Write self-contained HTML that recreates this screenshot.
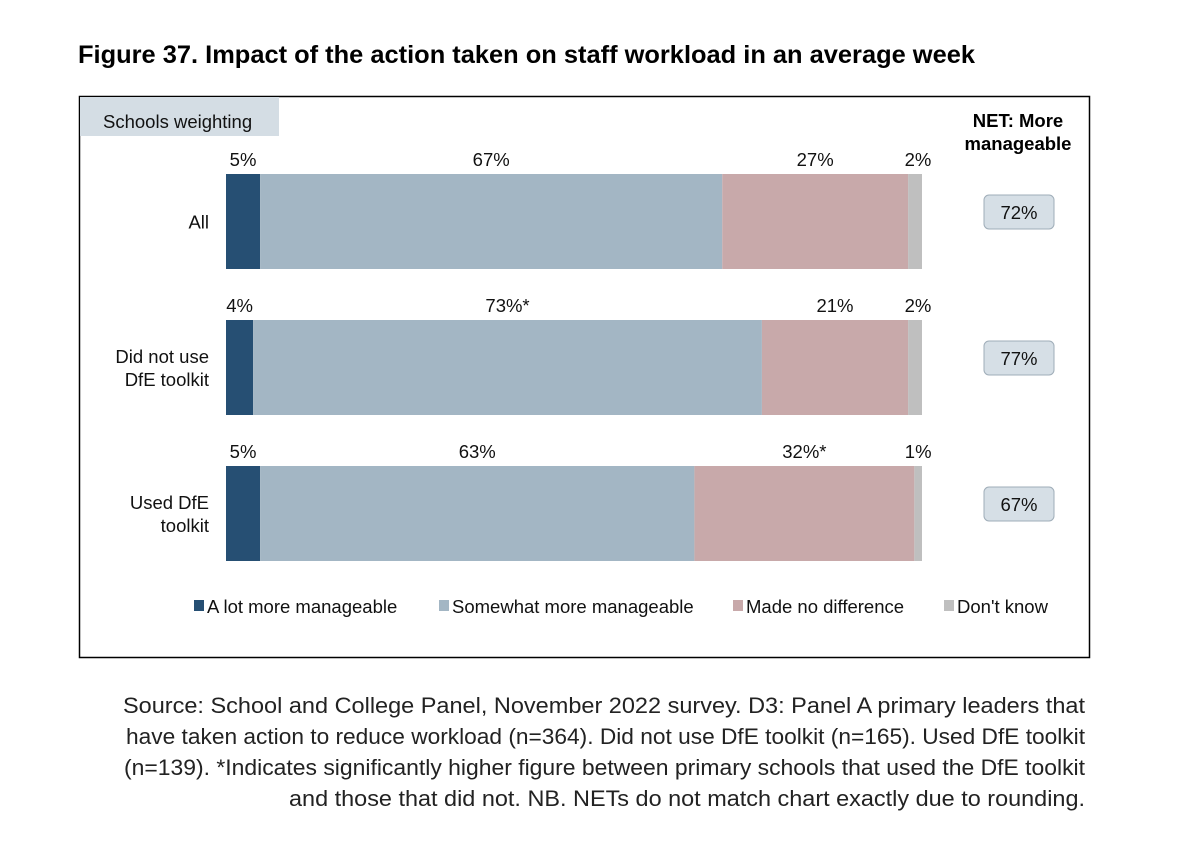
<!DOCTYPE html>
<html><head><meta charset="utf-8"><style>
body{margin:0;width:1200px;height:859px;background:#fff;font-family:"Liberation Sans",Arial,sans-serif;overflow:hidden}
</style></head><body>
<svg width="1200" height="859" xmlns="http://www.w3.org/2000/svg" font-family="Liberation Sans, Arial, sans-serif">
<text x="78" y="63" font-size="25" font-weight="bold" fill="#000" textLength="897" lengthAdjust="spacingAndGlyphs">Figure 37. Impact of the action taken on staff workload in an average week</text>
<rect x="79.5" y="96.5" width="1010" height="561" fill="none" stroke="#000" stroke-width="1.5"/>
<rect x="80" y="97" width="199" height="39" fill="#d4dde4"/>
<text x="103" y="128" font-size="18.5" fill="#111">Schools weighting</text>
<text x="1018" y="127" font-size="18.5" font-weight="bold" text-anchor="middle">NET: More</text>
<text x="1018" y="150" font-size="18.5" font-weight="bold" text-anchor="middle">manageable</text>
<g id="bars"></g>
<g id="legend"></g>
<g font-size="22.5" fill="#222" lengthAdjust="spacingAndGlyphs">
<text x="123" y="713" textLength="962" lengthAdjust="spacingAndGlyphs">Source: School and College Panel, November 2022 survey. D3: Panel A primary leaders that</text>
<text x="126" y="744" textLength="959" lengthAdjust="spacingAndGlyphs">have taken action to reduce workload (n=364). Did not use DfE toolkit (n=165). Used DfE toolkit</text>
<text x="124" y="775" textLength="961" lengthAdjust="spacingAndGlyphs">(n=139). *Indicates significantly higher figure between primary schools that used the DfE toolkit</text>
<text x="289" y="806" textLength="796" lengthAdjust="spacingAndGlyphs">and those that did not. NB. NETs do not match chart exactly due to rounding.</text>
</g>
</svg>
<script>
const categories = [["All"], ["Did not use","DfE toolkit"], ["Used DfE","toolkit"]];
const seriesNames = ["A lot more manageable","Somewhat more manageable","Made no difference","Don't know"];
const aLot = [4.9, 3.9, 4.9];
const somewhat = [66.4, 73.1, 62.4];
const noDiff = [26.7, 21.0, 31.6];
const dontKnow = [2.0, 2.0, 1.1];
const valueLabels = [["5%","67%","27%","2%"],["4%","73%*","21%","2%"],["5%","63%","32%*","1%"]];
const netValues = ["72%","77%","67%"];
const colors = ["#264f73","#a3b6c4","#c8a9aa","#bfbfbf"];
const NS="http://www.w3.org/2000/svg";
const x0=226, W=696, barTops=[174,320,466], barH=95;
function xs(v,sum){return v/sum*W;}
const g=document.getElementById('bars');
function mk(t,a){const e=document.createElementNS(NS,t);for(const k in a)e.setAttribute(k,a[k]);return e;}
const series=[aLot,somewhat,noDiff,dontKnow];
categories.forEach((cat,i)=>{
  const vals=series.map(s=>s[i]); const sum=vals.reduce((a,b)=>a+b,0);
  let cx=x0; const y=barTops[i];
  vals.forEach((v,j)=>{
    const w=xs(v,sum);
    const r=mk('rect',{x:cx,y:y,width:w,height:barH,fill:colors[j]});
    
    
    g.appendChild(r);
    let lx=cx+w/2; if(j===3) lx=Math.max(lx,918);
    const t=mk('text',{x:lx,y:y-8,'font-size':18.5,'text-anchor':'middle',fill:'#111'});
    t.textContent=valueLabels[i][j];
    
    
    g.appendChild(t);
    cx+=w;
  });
  const lines=cat; const midY=y+barH/2+7;
  lines.forEach((ln,k)=>{
    const t=mk('text',{x:209,y:midY+(k-(lines.length-1)/2)*23,'font-size':18.5,'text-anchor':'end',fill:'#111'});
    t.textContent=ln;
    
    
    g.appendChild(t);
  });
  const b=mk('rect',{x:984,y:y+21,width:70,height:34,rx:5,fill:'#d6dfe6',stroke:'#9fadb8','stroke-width':1});
  
  
  g.appendChild(b);
  const nt=mk('text',{x:1019,y:y+45,'font-size':18.5,'text-anchor':'middle',fill:'#111'});
  nt.textContent=netValues[i];
  
  
  g.appendChild(nt);
});
const lg=document.getElementById('legend'); const lx=[194,439,733,944];
seriesNames.forEach((n,j)=>{
  const r=mk('rect',{x:lx[j],y:600,width:10,height:11,fill:colors[j]});
  
  
  lg.appendChild(r);
  const t=mk('text',{x:lx[j]+13,y:613,'font-size':18.5,fill:'#111'});
  t.textContent=n;
  
  
  lg.appendChild(t);
});
</script>
</body></html>
